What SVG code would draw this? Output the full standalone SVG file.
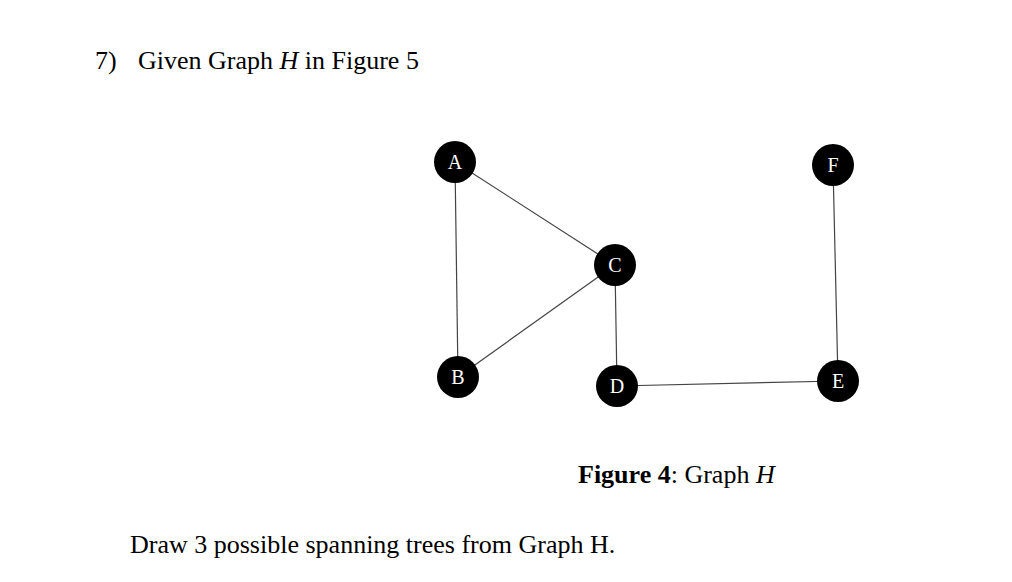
<svg xmlns="http://www.w3.org/2000/svg" width="1012" height="582" viewBox="0 0 1012 582">
<style>
text{font-family:"Liberation Serif",serif;fill:#000}
.t{font-size:26px}
.n circle{fill:#000}
.n text{fill:#fff;font-size:20px;text-anchor:middle}
.e line{stroke:#444;stroke-width:1.2}
</style>
<rect width="1012" height="582" fill="#fff"/>
<text class="t" x="95" y="69">7)</text>
<text class="t" x="138" y="69">Given Graph <tspan font-style="italic">H</tspan> in Figure 5</text>
<g class="e" id="edges">
<line x1="455" y1="162" x2="615" y2="265"/>
<line x1="455" y1="162" x2="458" y2="377"/>
<line x1="615" y1="265" x2="458" y2="377"/>
<line x1="615" y1="265" x2="617" y2="386"/>
<line x1="617" y1="386" x2="838" y2="381"/>
<line x1="833" y1="165" x2="838" y2="381"/>
</g>
<g class="n" id="A"><circle cx="455" cy="162" r="21"/><text x="455" y="169">A</text></g>
<g class="n" id="F"><circle cx="833" cy="165" r="21"/><text x="833" y="172">F</text></g>
<g class="n" id="C"><circle cx="615" cy="265" r="21"/><text x="615" y="272">C</text></g>
<g class="n" id="B"><circle cx="458" cy="377" r="21"/><text x="458" y="384">B</text></g>
<g class="n" id="D"><circle cx="617" cy="386" r="21"/><text x="617" y="393">D</text></g>
<g class="n" id="E"><circle cx="838" cy="381" r="21"/><text x="838" y="388">E</text></g>
<text class="t" x="578" y="483"><tspan font-weight="bold">Figure 4</tspan>: Graph <tspan font-style="italic">H</tspan></text>
<text class="t" x="130" y="553">Draw 3 possible spanning trees from Graph H.</text>
</svg>
